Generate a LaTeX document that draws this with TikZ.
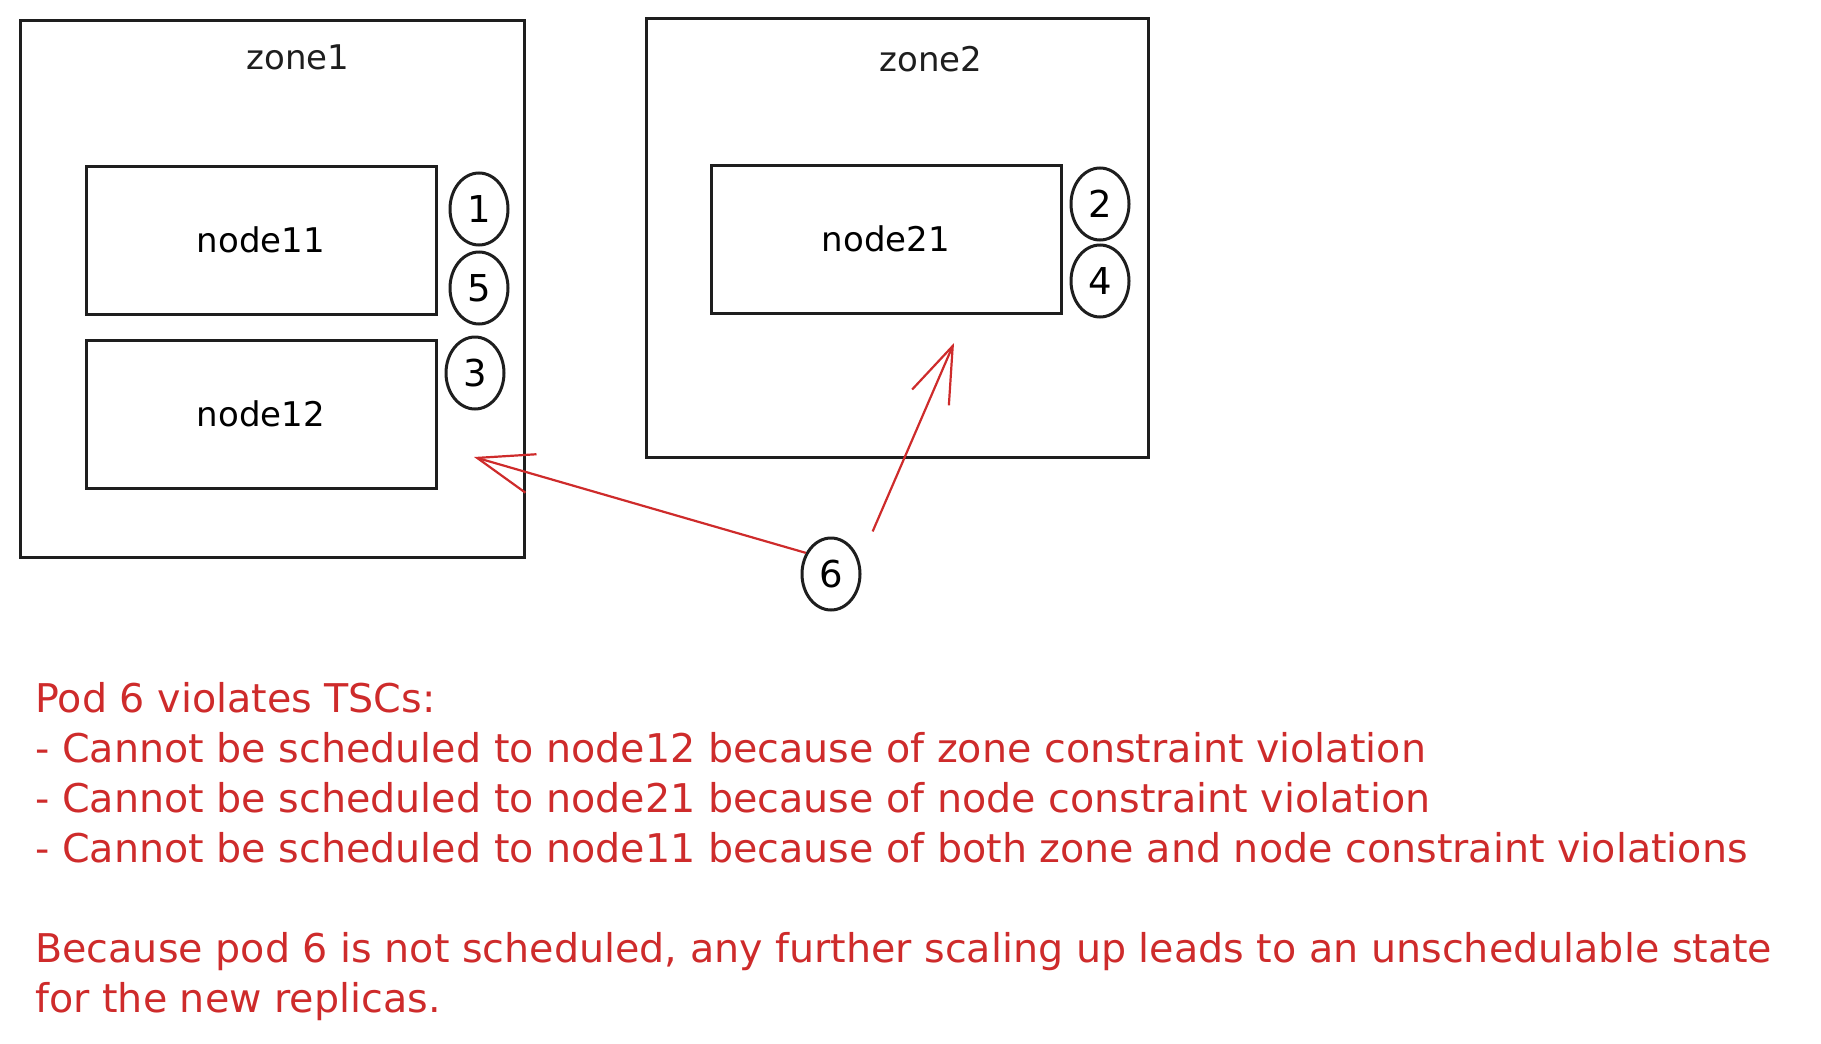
\documentclass[tikz,border=0pt]{standalone}
\usepackage{fontspec}
\setmainfont{DejaVu Sans}
\usetikzlibrary{arrows.meta,positioning,fit,shapes.geometric}
\definecolor{ink}{HTML}{1E1E1E}
\definecolor{warnred}{HTML}{CE2B2B}
\newcommand{\handfont}{\fontsize{19.8}{25}\selectfont}
\newcommand{\tagfont}{\fontsize{17}{20}\selectfont}
\tikzset{
  zonebox/.style={draw=ink,line width=1.5pt,inner sep=0pt},
  hostbox/.style={draw=ink,line width=1.5pt,minimum width=175pt,minimum height=74pt,inner sep=0pt,font=\tagfont},
  pod/.style={draw=ink,line width=1.5pt,ellipse,minimum width=29pt,minimum height=36pt,inner sep=0pt,font=\fontsize{18.5}{22}\selectfont},
  lbl/.style={font=\tagfont,text=ink},
  note/.style={font=\handfont,text=warnred,align=left,inner sep=0pt},
  ar/.style={-{Straight Barb[length=28pt,width=20pt]},line width=1.1pt,draw=warnred},
}

\begin{document}
\begin{tikzpicture}[x=0.5pt,y=-0.5pt]
\useasboundingbox (0,0) rectangle (1821,1044);
% zones
\node[zonebox,fit={(20,20)(524,557)}] (zone1) {};
\node[zonebox,fit={(646,18)(1148,457)}] (zone2) {};
\node[lbl] (zone1lbl) at (298,57) {zone1};
\node[lbl] (zone2lbl) at (931,59) {zone2};
% nodes
\node[hostbox] (node11) at (261,240) {node11};
\node[hostbox,below=11.5pt of node11] (node12) {node12};
\node[hostbox] (node21) at (886,239) {node21};
% pods
\node[pod] (pod1) at (479,209) {1};
\node[pod,below=2pt of pod1] (pod5) {5};
\node[pod] (pod3) at (475,373) {3};
\node[pod] (pod2) at (1100,204) {2};
\node[pod,below=1pt of pod2] (pod4) {4};
\node[pod] (pod6) at (831,574) {6};
% where pod 6 could go
\coordinate (to12) at (474,457);
\coordinate (to21) at (954,343);
\draw[ar] (pod6.140) -- (to12);
\draw[ar] ([shift={(24,-12)}]pod6.60) -- (to21);
% note
\node[note,anchor=north west] (why) at (35,682) {Pod 6 violates TSCs:\\
- Cannot be scheduled to node12 because of zone constraint violation\\
- Cannot be scheduled to node21 because of node constraint violation\\
- Cannot be scheduled to node11 because of both zone and node constraint violations\\[25pt]
Because pod 6 is not scheduled, any further scaling up leads to an unschedulable state\\
for the new replicas.};
\end{tikzpicture}
\end{document}
